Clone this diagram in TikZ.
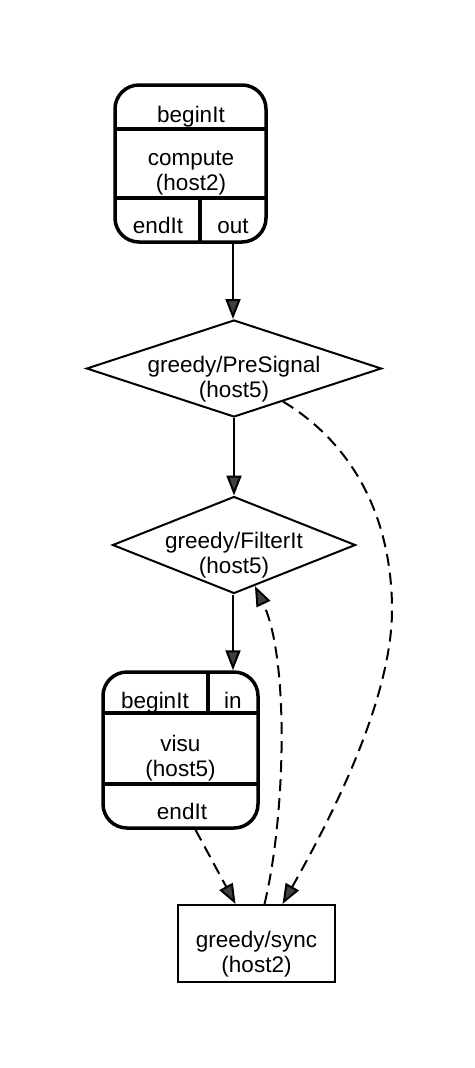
\documentclass[tikz,border=0pt]{standalone}
\usepackage{fontspec}
\setmainfont{Liberation Sans}
\usetikzlibrary{shapes.geometric, arrows.meta}

\begin{document}
\begin{tikzpicture}[
    x=1pt, y=-1pt,
    % Record frames
    recframe/.style={rectangle, draw, line width=3.5pt, rounded corners=24pt, inner sep=0pt},
    recline/.style={line width=3.5pt},
    % Texts
    gvtext/.style={font=\fontsize{22.5}{25}\selectfont, align=center, inner sep=0pt},
    twoline/.style={gvtext, text height=62pt, text depth=5pt},
    port/.style={gvtext, anchor=base},
    % Other nodes
    decision/.style={diamond, draw, line width=2pt, inner sep=0pt, minimum height=97pt},
    syncbox/.style={rectangle, draw, line width=2pt, twoline, minimum width=157pt, minimum height=77pt},
    % Connectors
    edge/.style={line width=2pt, -{Triangle[length=20pt, width=15pt, fill=black!75]}},
    syncedge/.style={edge, dash pattern=on 12pt off 7pt}
]
    \useasboundingbox (0,0) rectangle (474,1068);

    % compute record
    \node[recframe, minimum width=151pt, minimum height=157pt] (compute) at (190.5,163.5) {};
    \draw[recline] (115,129) -- (266,129);
    \draw[recline] (115,198) -- (266,198);
    \draw[recline] (200,198) -- (200,242);
    \node[port] (beginA) at (191,122) {beginIt};
    \node[twoline] (computelbl) at (191,161.5) {compute\\(host2)};
    \node[port] (endA) at (158,233) {endIt};
    \node[port] (out) at (233,233) {out};

    % Decisions
    \node[decision, minimum width=295pt,
          label={[twoline]center:{greedy/PreSignal\\(host5)}}] (presig) at (234,368.5) {};
    \node[decision, minimum width=243pt,
          label={[twoline]center:{greedy/FilterIt\\(host5)}}] (filter) at (234,545) {};

    % visu record
    \node[recframe, minimum width=155pt, minimum height=156pt] (visu) at (180.5,750) {};
    \draw[recline] (103,713) -- (258,713);
    \draw[recline] (103,784) -- (258,784);
    \draw[recline] (208,672) -- (208,713);
    \node[port] (beginB) at (155,708) {beginIt};
    \node[port] (in) at (233,708) {in};
    \node[twoline] (visulbl) at (180.5,747.5) {visu\\(host5)};
    \node[port] (endB) at (182,819) {endIt};

    % Sync
    \node[syncbox] (sync) at (256.5,943.5) {greedy/sync\\(host2)};

    % Data flow
    \draw[edge] (out |- compute.south) -- (out |- presig.north);
    \draw[edge] (presig.south) -- (filter.north);
    \draw[edge] (in |- filter.south) -- (in |- visu.north);

    % Synchronisation
    \draw[syncedge] ([xshift=15pt]visu.south) -- ([xshift=-21pt]sync.north);
    \draw[syncedge] ([xshift=8pt]sync.north) .. controls (285,820) and (290,660) .. (filter.-63);
    \draw[syncedge] (presig.-34) .. controls (355,445) and (392,520) .. (392,610)
        .. controls (392,700) and (330,820) .. ([xshift=26pt]sync.north);
\end{tikzpicture}
\end{document}
